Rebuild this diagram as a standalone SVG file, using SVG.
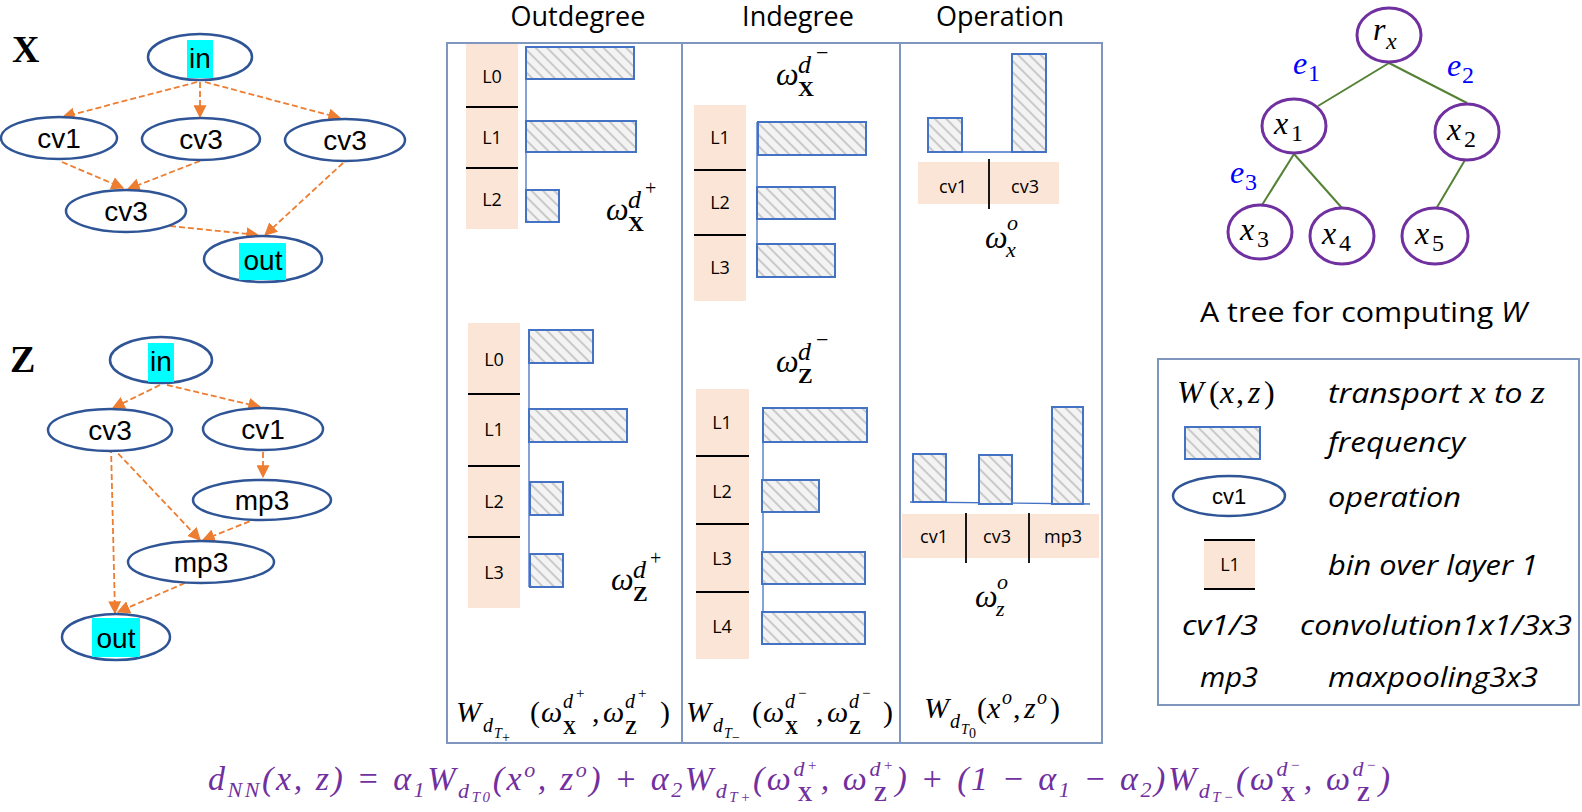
<svg xmlns="http://www.w3.org/2000/svg" width="1582" height="812" viewBox="0 0 1582 812">
<style>
.nd{fill:#fff;stroke:#2F5597;stroke-width:2.5}
.nt{font-family:"Liberation Sans",Arial,sans-serif;font-size:28px;text-anchor:middle}
.hl{fill:#00FFFF}
.ed{fill:none;stroke:#ED7D31;stroke-width:1.8;stroke-dasharray:6 3;marker-end:url(#ah)}
.pn{fill:none;stroke:#7F96BE;stroke-width:2}
.pk{fill:#FBE5D6}
.sep{stroke:#000;stroke-width:1.8}
.bar{fill:url(#h);stroke:#4472C4;stroke-width:2}
.ax{stroke:#4472C4;stroke-width:1.3}
.lb{font-family:"Open Sans",sans-serif;font-size:18px;text-anchor:middle}
.hd{font-family:"Open Sans",sans-serif;font-size:27px;text-anchor:middle}
.m{font-family:"Liberation Serif",serif;font-style:italic}
.mu{font-family:"Liberation Serif",serif}
.mb{font-family:"Liberation Serif",serif;font-weight:bold}
.tn{fill:#fff;stroke:#7030A0;stroke-width:3}
.te{stroke:#548235;stroke-width:2}
.lg{font-family:"Open Sans",sans-serif;font-style:italic;font-size:28px}
</style>
<defs>
<marker id="ah" viewBox="0 0 10 10" refX="9" refY="5" markerWidth="13" markerHeight="13" orient="auto" markerUnits="userSpaceOnUse"><path d="M0,0 L10,5 L0,10 z" fill="#ED7D31"/></marker>
<pattern id="h" width="8" height="8" patternUnits="userSpaceOnUse" patternTransform="rotate(-45)"><rect width="8" height="8" fill="#F3F3F3"/><line x1="1" y1="0" x2="1" y2="8" stroke="#C9C9C9" stroke-width="2"/></pattern>
</defs>
<rect width="1582" height="812" fill="#fff"/>

<text x="12" y="62" class="mb" font-size="38">X</text>
<text x="10" y="372" class="mb" font-size="38">Z</text>

<g id="connectors">
<line class="ed" x1="197" y1="82" x2="63" y2="117"/>
<line class="ed" x1="200" y1="82" x2="200" y2="117"/>
<line class="ed" x1="205" y1="82" x2="340" y2="118"/>
<line class="ed" x1="62" y1="162" x2="123" y2="188"/>
<line class="ed" x1="200" y1="161" x2="128" y2="189"/>
<line class="ed" x1="343" y1="163" x2="265" y2="235"/>
<line class="ed" x1="170" y1="226" x2="258" y2="235"/>
<line class="ed" x1="160" y1="385" x2="113" y2="408"/>
<line class="ed" x1="167" y1="385" x2="260" y2="407"/>
<line class="ed" x1="263" y1="452" x2="263" y2="477"/>
<line class="ed" x1="112" y1="447" x2="200" y2="540"/>
<line class="ed" x1="258" y1="518" x2="203" y2="540"/>
<line class="ed" x1="111" y1="447" x2="115" y2="613"/>
<line class="ed" x1="185" y1="583" x2="118" y2="612"/>
<line class="te" x1="1389" y1="63" x2="1318" y2="106"/>
<line class="te" x1="1389" y1="63" x2="1467" y2="103"/>
<line class="te" x1="1294" y1="154" x2="1262" y2="205"/>
<line class="te" x1="1294" y1="154" x2="1342" y2="208"/>
<line class="te" x1="1465" y1="160" x2="1436" y2="209"/>
</g>

<g id="x-in"><ellipse class="nd" cx="200" cy="57" rx="52" ry="23"/><rect class="hl" x="187" y="40" width="26" height="38"/><text class="nt" x="200" y="68">in</text></g>
<g id="x-cv1"><ellipse class="nd" cx="59" cy="138" rx="58" ry="21"/><text class="nt" x="59" y="148">cv1</text></g>
<g id="x-cv3a"><ellipse class="nd" cx="201" cy="139" rx="59" ry="21"/><text class="nt" x="201" y="149">cv3</text></g>
<g id="x-cv3b"><ellipse class="nd" cx="345" cy="140" rx="60" ry="21"/><text class="nt" x="345" y="150">cv3</text></g>
<g id="x-cv3c"><ellipse class="nd" cx="126" cy="211" rx="60" ry="21"/><text class="nt" x="126" y="221">cv3</text></g>
<g id="x-out"><ellipse class="nd" cx="263" cy="259" rx="59" ry="23"/><rect class="hl" x="239" y="243" width="47" height="37"/><text class="nt" x="263" y="270">out</text></g>

<g id="z-in"><ellipse class="nd" cx="161" cy="360" rx="51" ry="23"/><rect class="hl" x="148" y="343" width="26" height="39"/><text class="nt" x="161" y="371">in</text></g>
<g id="z-cv3"><ellipse class="nd" cx="110" cy="430" rx="62" ry="21"/><text class="nt" x="110" y="440">cv3</text></g>
<g id="z-cv1"><ellipse class="nd" cx="263" cy="429" rx="60" ry="21"/><text class="nt" x="263" y="439">cv1</text></g>
<g id="z-mp3a"><ellipse class="nd" cx="262" cy="500" rx="69" ry="20"/><text class="nt" x="262" y="510">mp3</text></g>
<g id="z-mp3b"><ellipse class="nd" cx="201" cy="562" rx="73" ry="21"/><text class="nt" x="201" y="572">mp3</text></g>
<g id="z-out"><ellipse class="nd" cx="116" cy="637" rx="54" ry="23"/><rect class="hl" x="92" y="618" width="48" height="39"/><text class="nt" x="116" y="648">out</text></g>

<text class="hd" x="578" y="26">Outdegree</text>
<text class="hd" x="798" y="26">Indegree</text>
<text class="hd" x="1000" y="26">Operation</text>

<g id="panels">
<rect class="pn" x="447" y="43" width="235" height="700"/>
<rect class="pn" x="682" y="43" width="218" height="700" stroke="#5F7AAA"/>
<rect class="pn" x="900" y="43" width="202" height="700"/>
</g>

<g id="out-x">
<rect class="pk" x="466" y="44" width="52" height="185"/>
<line class="sep" x1="466" y1="107" x2="518" y2="107"/><line class="sep" x1="466" y1="168" x2="518" y2="168"/>
<text class="lb" x="492" y="83">L0</text><text class="lb" x="492" y="144">L1</text><text class="lb" x="492" y="206">L2</text>
<line class="ax" x1="526" y1="47" x2="526" y2="222"/>
<rect class="bar" x="526" y="47" width="108" height="32"/>
<rect class="bar" x="526" y="121" width="110" height="31"/>
<rect class="bar" x="526" y="190" width="33" height="32"/>
<text class="m" x="606" y="220" font-size="32">ω</text><text class="m" x="628" y="208" font-size="26">d</text><text class="mu" x="645" y="195" font-size="20">+</text><text class="mb" x="628" y="231" font-size="22">X</text>
</g>

<g id="out-z">
<rect class="pk" x="468" y="323" width="52" height="285"/>
<line class="sep" x1="468" y1="394" x2="520" y2="394"/><line class="sep" x1="468" y1="466" x2="520" y2="466"/><line class="sep" x1="468" y1="537" x2="520" y2="537"/>
<text class="lb" x="494" y="366">L0</text><text class="lb" x="494" y="436">L1</text><text class="lb" x="494" y="508">L2</text><text class="lb" x="494" y="579">L3</text>
<line class="ax" x1="529" y1="330" x2="529" y2="587"/>
<rect class="bar" x="529" y="330" width="64" height="33"/>
<rect class="bar" x="529" y="409" width="98" height="33"/>
<rect class="bar" x="530" y="482" width="33" height="33"/>
<rect class="bar" x="530" y="554" width="33" height="33"/>
<text class="m" x="611" y="590" font-size="32">ω</text><text class="m" x="633" y="578" font-size="26">d</text><text class="mu" x="650" y="565" font-size="20">+</text><text class="mb" x="633" y="601" font-size="22">Z</text>
</g>

<g id="in-x">
<rect class="pk" x="694" y="105" width="52" height="196"/>
<line class="sep" x1="694" y1="170" x2="746" y2="170"/><line class="sep" x1="694" y1="235" x2="746" y2="235"/>
<text class="lb" x="720" y="144">L1</text><text class="lb" x="720" y="209">L2</text><text class="lb" x="720" y="274">L3</text>
<line class="ax" x1="757" y1="122" x2="757" y2="277"/>
<rect class="bar" x="758" y="122" width="108" height="33"/>
<rect class="bar" x="757" y="187" width="78" height="32"/>
<rect class="bar" x="757" y="244" width="78" height="33"/>
<text class="m" x="776" y="85" font-size="32">ω</text><text class="m" x="798" y="73" font-size="26">d</text><text class="mu" x="816" y="60" font-size="22">−</text><text class="mb" x="798" y="96" font-size="22">X</text>
</g>

<g id="in-z">
<rect class="pk" x="696" y="389" width="53" height="270"/>
<line class="sep" x1="696" y1="456" x2="749" y2="456"/><line class="sep" x1="696" y1="524" x2="749" y2="524"/><line class="sep" x1="696" y1="592" x2="749" y2="592"/>
<text class="lb" x="722" y="429">L1</text><text class="lb" x="722" y="498">L2</text><text class="lb" x="722" y="565">L3</text><text class="lb" x="722" y="633">L4</text>
<line class="ax" x1="763" y1="408" x2="763" y2="644"/>
<rect class="bar" x="763" y="408" width="104" height="34"/>
<rect class="bar" x="762" y="480" width="57" height="32"/>
<rect class="bar" x="762" y="552" width="103" height="32"/>
<rect class="bar" x="762" y="612" width="103" height="32"/>
<text class="m" x="776" y="372" font-size="32">ω</text><text class="m" x="798" y="360" font-size="26">d</text><text class="mu" x="816" y="347" font-size="22">−</text><text class="mb" x="798" y="383" font-size="22">Z</text>
</g>

<g id="op-x">
<line class="ax" x1="928" y1="152" x2="1046" y2="152"/>
<rect class="bar" x="928" y="118" width="34" height="34"/>
<rect class="bar" x="1012" y="54" width="34" height="98"/>
<rect class="pk" x="918" y="162" width="141" height="42"/>
<line class="sep" x1="989" y1="159" x2="989" y2="209"/>
<text class="lb" x="953" y="193">cv1</text><text class="lb" x="1025" y="193">cv3</text>
<text class="m" x="985" y="248" font-size="32">ω</text><text class="m" x="1007" y="230" font-size="22">o</text><text class="m" x="1006" y="257" font-size="22">x</text>
</g>

<g id="op-z">
<line class="ax" x1="910" y1="502" x2="1090" y2="504"/>
<rect class="bar" x="913" y="454" width="33" height="48"/>
<rect class="bar" x="979" y="455" width="33" height="49"/>
<rect class="bar" x="1052" y="407" width="31" height="97"/>
<rect class="pk" x="902" y="514" width="197" height="44"/>
<line class="sep" x1="966" y1="513" x2="966" y2="563"/><line class="sep" x1="1029" y1="513" x2="1029" y2="563"/>
<text class="lb" x="934" y="543">cv1</text><text class="lb" x="997" y="543">cv3</text><text class="lb" x="1063" y="543">mp3</text>
<text class="m" x="975" y="607" font-size="32">ω</text><text class="m" x="997" y="589" font-size="22">o</text><text class="m" x="996" y="616" font-size="22">z</text>
</g>

<g id="w-labels">
<text class="m" x="456" y="722" font-size="30">W</text><text class="m" x="483" y="732" font-size="20">d</text><text class="m" x="494" y="738" font-size="14">T</text><text class="mu" x="502" y="742" font-size="14">+</text>
<text class="mu" x="530" y="722" font-size="30">(</text><text class="m" x="541" y="722" font-size="30">ω</text><text class="m" x="563" y="708" font-size="20">d</text><text class="mu" x="576" y="698" font-size="15">+</text><text class="mb" x="563" y="734" font-size="18">X</text>
<text class="mu" x="592" y="722" font-size="30">,</text><text class="m" x="603" y="722" font-size="30">ω</text><text class="m" x="625" y="708" font-size="20">d</text><text class="mu" x="638" y="698" font-size="15">+</text><text class="mb" x="625" y="734" font-size="18">Z</text><text class="mu" x="660" y="722" font-size="30">)</text>

<text class="m" x="686" y="722" font-size="30">W</text><text class="m" x="713" y="732" font-size="20">d</text><text class="m" x="724" y="738" font-size="14">T</text><text class="mu" x="732" y="742" font-size="14">−</text>
<text class="mu" x="752" y="722" font-size="30">(</text><text class="m" x="763" y="722" font-size="30">ω</text><text class="m" x="785" y="708" font-size="20">d</text><text class="mu" x="798" y="698" font-size="15">−</text><text class="mb" x="785" y="734" font-size="18">X</text>
<text class="mu" x="816" y="722" font-size="30">,</text><text class="m" x="827" y="722" font-size="30">ω</text><text class="m" x="849" y="708" font-size="20">d</text><text class="mu" x="862" y="698" font-size="15">−</text><text class="mb" x="849" y="734" font-size="18">Z</text><text class="mu" x="883" y="722" font-size="30">)</text>

<text class="m" x="924" y="718" font-size="30">W</text><text class="m" x="950" y="728" font-size="20">d</text><text class="m" x="961" y="734" font-size="14">T</text><text class="mu" x="969" y="738" font-size="14">0</text>
<text class="mu" x="977" y="718" font-size="30">(</text><text class="m" x="987" y="718" font-size="30">x</text><text class="m" x="1002" y="704" font-size="20">o</text><text class="mu" x="1013" y="718" font-size="30">,</text><text class="m" x="1024" y="718" font-size="30">z</text><text class="m" x="1037" y="704" font-size="20">o</text><text class="mu" x="1050" y="718" font-size="30">)</text>
</g>

<g id="t-r"><ellipse class="tn" cx="1389" cy="35" rx="32" ry="27"/><text class="m" x="1373" y="40" font-size="32">r</text><text class="m" x="1386" y="49" font-size="24">x</text></g>
<g id="t-x1"><ellipse class="tn" cx="1294" cy="126" rx="32" ry="27"/><text class="m" x="1274" y="134" font-size="32">x</text><text class="mu" x="1291" y="141" font-size="24">1</text></g>
<g id="t-x2"><ellipse class="tn" cx="1467" cy="132" rx="32" ry="28"/><text class="m" x="1447" y="140" font-size="32">x</text><text class="mu" x="1464" y="147" font-size="24">2</text></g>
<g id="t-x3"><ellipse class="tn" cx="1260" cy="232" rx="32" ry="27"/><text class="m" x="1240" y="240" font-size="32">x</text><text class="mu" x="1257" y="247" font-size="24">3</text></g>
<g id="t-x4"><ellipse class="tn" cx="1342" cy="236" rx="32" ry="28"/><text class="m" x="1322" y="244" font-size="32">x</text><text class="mu" x="1339" y="251" font-size="24">4</text></g>
<g id="t-x5"><ellipse class="tn" cx="1435" cy="236" rx="33" ry="28"/><text class="m" x="1415" y="244" font-size="32">x</text><text class="mu" x="1432" y="251" font-size="24">5</text></g>
<g fill="#0000FF">
<text class="m" x="1293" y="74" font-size="32">e</text><text class="mu" x="1308" y="81" font-size="24">1</text>
<text class="m" x="1447" y="76" font-size="32">e</text><text class="mu" x="1462" y="83" font-size="24">2</text>
<text class="m" x="1230" y="183" font-size="32">e</text><text class="mu" x="1245" y="190" font-size="24">3</text>
</g>
<text x="1200" y="322" font-family="Open Sans, sans-serif" font-size="27" textLength="327" lengthAdjust="spacingAndGlyphs">A tree for computing <tspan font-style="italic">W</tspan></text>

<g id="legend">
<rect x="1158" y="359" width="421" height="346" fill="none" stroke="#7F96BE" stroke-width="2"/>
<text class="m" x="1177" y="403" font-size="32">W</text><text class="mu" x="1209" y="403" font-size="32">(</text><text class="m" x="1220" y="403" font-size="32">x</text><text class="mu" x="1236" y="403" font-size="32">,</text><text class="m" x="1248" y="403" font-size="32">z</text><text class="mu" x="1264" y="403" font-size="32">)</text>
<text class="lg" x="1328" y="403" textLength="217" lengthAdjust="spacingAndGlyphs">transport <tspan font-family="Liberation Serif, serif" font-size="32">x</tspan> to <tspan font-family="Liberation Serif, serif" font-size="32">z</tspan></text>
<rect class="bar" x="1185" y="427" width="75" height="32"/>
<text class="lg" x="1328" y="452" textLength="137" lengthAdjust="spacingAndGlyphs">frequency</text>
<ellipse class="nd" cx="1229" cy="496" rx="56" ry="20"/><text x="1229" y="504" font-family="Liberation Sans, Arial, sans-serif" font-size="22" text-anchor="middle">cv1</text>
<text class="lg" x="1328" y="507" textLength="133" lengthAdjust="spacingAndGlyphs">operation</text>
<rect class="pk" x="1204" y="540" width="51" height="49"/>
<line class="sep" x1="1204" y1="540" x2="1255" y2="540"/><line class="sep" x1="1204" y1="589" x2="1255" y2="589"/>
<text class="lb" x="1230" y="571">L1</text>
<text class="lg" x="1328" y="575" textLength="210" lengthAdjust="spacingAndGlyphs">bin over layer 1</text>
<text class="lg" x="1182" y="635" textLength="76" lengthAdjust="spacingAndGlyphs">cv1/3</text>
<text class="lg" x="1300" y="635" textLength="272" lengthAdjust="spacingAndGlyphs">convolution1x1/3x3</text>
<text class="lg" x="1200" y="687" textLength="58" lengthAdjust="spacingAndGlyphs">mp3</text>
<text class="lg" x="1328" y="687" textLength="210" lengthAdjust="spacingAndGlyphs">maxpooling3x3</text>
</g>

<text x="208" y="790" fill="#7030A0" font-family="Liberation Serif, serif" font-style="italic" font-size="34" textLength="1182" lengthAdjust="spacing">d<tspan dy="7" font-size="22">NN</tspan><tspan dy="-7">(x, z) = α</tspan><tspan dy="7" font-size="22">1</tspan><tspan dy="-7">W</tspan><tspan dy="8" font-size="22">d</tspan><tspan dy="4" font-size="15">T0</tspan><tspan dy="-12">(x</tspan><tspan dy="-13" font-size="22">o</tspan><tspan dy="13">, z</tspan><tspan dy="-13" font-size="22">o</tspan><tspan dy="13">) + α</tspan><tspan dy="7" font-size="22">2</tspan><tspan dy="-7">W</tspan><tspan dy="8" font-size="22">d</tspan><tspan dy="4" font-size="15">T+</tspan><tspan dy="-12">(ω</tspan><tspan dy="-14" font-size="22">d</tspan><tspan dy="-6" font-size="15">+</tspan><tspan dx="-22" dy="31" font-size="20" font-style="normal" font-weight="bold">X</tspan><tspan dx="6" dy="-11">, ω</tspan><tspan dy="-14" font-size="22">d</tspan><tspan dy="-6" font-size="15">+</tspan><tspan dx="-22" dy="31" font-size="20" font-style="normal" font-weight="bold">Z</tspan><tspan dx="6" dy="-11">) + (1 − α</tspan><tspan dy="7" font-size="22">1</tspan><tspan dy="-7"> − α</tspan><tspan dy="7" font-size="22">2</tspan><tspan dy="-7">)W</tspan><tspan dy="8" font-size="22">d</tspan><tspan dy="4" font-size="15">T−</tspan><tspan dy="-12">(ω</tspan><tspan dy="-14" font-size="22">d</tspan><tspan dy="-6" font-size="15">−</tspan><tspan dx="-22" dy="31" font-size="20" font-style="normal" font-weight="bold">X</tspan><tspan dx="6" dy="-11">, ω</tspan><tspan dy="-14" font-size="22">d</tspan><tspan dy="-6" font-size="15">−</tspan><tspan dx="-22" dy="31" font-size="20" font-style="normal" font-weight="bold">Z</tspan><tspan dx="6" dy="-11">)</tspan></text>
</svg>
